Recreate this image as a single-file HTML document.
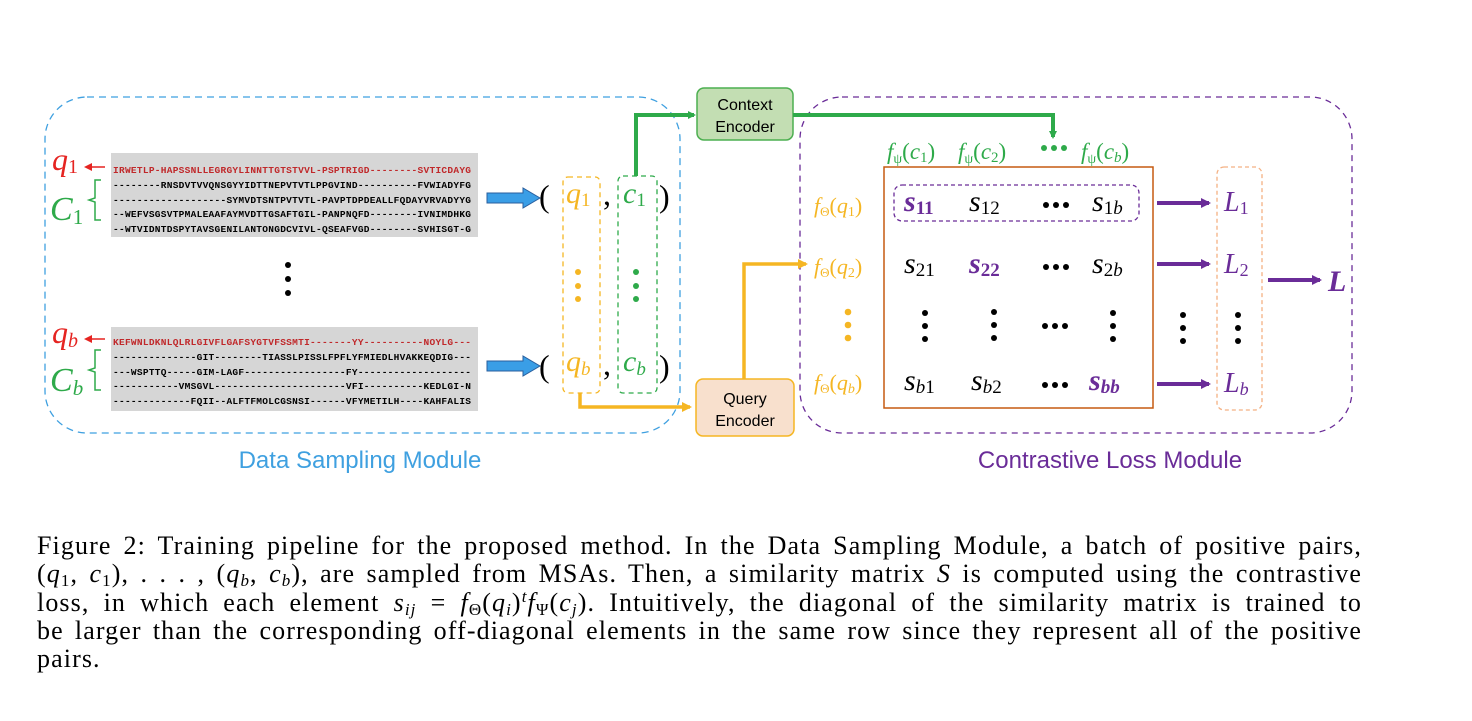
<!DOCTYPE html>
<html><head><meta charset="utf-8"><style>
html,body{margin:0;padding:0;background:#fff;}
body{position:relative;width:1472px;height:721px;overflow:hidden;}
svg{display:block;position:absolute;left:0;top:0;}
.m{font-family:"Liberation Mono",monospace;font-size:9.5px;font-weight:bold;}
.mi{font-family:"Liberation Serif",serif;font-style:italic;}
.s{font-family:"Liberation Sans",sans-serif;}
.cl{position:absolute;left:37px;width:1325px;font-family:"Liberation Serif",serif;font-size:26px;letter-spacing:1.1px;line-height:28px;height:28px;white-space:nowrap;text-align:justify;text-align-last:justify;color:#000;}
.cl i{font-style:italic;}
.cl sub{font-size:17px;vertical-align:-4px;line-height:0;}
.cl sup{font-size:17px;vertical-align:9px;line-height:0;}
</style></head><body>
<svg width="1472" height="721" viewBox="0 0 1472 721" xmlns="http://www.w3.org/2000/svg">
<defs>
<marker id="ag" markerWidth="8" markerHeight="8" refX="6" refY="4" orient="auto" markerUnits="userSpaceOnUse"><path d="M0,0L8,4L0,8z" fill="#2eaa4a"/></marker>
<marker id="ay" markerWidth="10" markerHeight="10" refX="8" refY="5" orient="auto" markerUnits="userSpaceOnUse"><path d="M0,0L10,5L0,10z" fill="#f5b623"/></marker>
<marker id="ap" markerWidth="10" markerHeight="10" refX="8" refY="5" orient="auto" markerUnits="userSpaceOnUse"><path d="M0,0L10,5L0,10z" fill="#6a2c98"/></marker>
<marker id="ar" markerWidth="8" markerHeight="8" refX="6" refY="4" orient="auto" markerUnits="userSpaceOnUse"><path d="M0,0L8,4L0,8z" fill="#e52421"/></marker>
</defs>
<rect x="45" y="97" width="635" height="336" rx="42" fill="none" stroke="#3fa0e0" stroke-width="1.3" stroke-dasharray="7,5"/>
<rect x="800" y="97" width="552" height="336" rx="42" fill="none" stroke="#6a2c98" stroke-width="1.3" stroke-dasharray="6,5"/>
<text x="360" y="468" class="s" font-size="24" fill="#3fa0e0" text-anchor="middle">Data Sampling Module</text>
<text x="1110" y="468" class="s" font-size="24" fill="#6a2c98" text-anchor="middle">Contrastive Loss Module</text>

<rect x="111" y="153" width="367" height="84" fill="#d6d6d6"/>
<g class="m">
<text x="113" y="173" fill="#c0282a" textLength="358">IRWETLP-HAPSSNLLEGRGYLINNTTGTSTVVL-PSPTRIGD--------SVTICDAYG</text>
<text x="113" y="188" textLength="358">--------RNSDVTVVQNSGYYIDTTNEPVTVTLPPGVIND----------FVWIADYFG</text>
<text x="113" y="203" textLength="358">-------------------SYMVDTSNTPVTVTL-PAVPTDPDEALLFQDAYVRVADYYG</text>
<text x="113" y="217" textLength="358">--WEFVSGSVTPMALEAAFAYMVDTTGSAFTGIL-PANPNQFD--------IVNIMDHKG</text>
<text x="113" y="232" textLength="358">--WTVIDNTDSPYTAVSGENILANTONGDCVIVL-QSEAFVGD--------SVHISGT-G</text>
</g>
<text x="52" y="170" class="mi" font-size="32" fill="#e52421">q<tspan font-size="20" dy="3" font-style="normal">1</tspan></text>
<line x1="105" y1="167" x2="86" y2="167" stroke="#e52421" stroke-width="1.5" marker-end="url(#ar)"/>
<text x="50" y="220" class="mi" font-size="34" fill="#2eaa4a">C<tspan font-size="21" dy="4" font-style="normal">1</tspan></text>
<path d="M101,180 h-6 v18 l-6,2 l6,2 v18 h6" fill="none" stroke="#2eaa4a" stroke-width="1.5"/>

<g fill="#000"><circle cx="288" cy="265" r="3"/><circle cx="288" cy="279" r="3"/><circle cx="288" cy="293" r="3"/></g>

<rect x="111" y="327" width="367" height="84" fill="#d6d6d6"/>
<g class="m">
<text x="113" y="345" fill="#c0282a" textLength="358">KEFWNLDKNLQLRLGIVFLGAFSYGTVFSSMTI-------YY----------NOYLG---</text>
<text x="113" y="360" textLength="358">--------------GIT--------TIASSLPISSLFPFLYFMIEDLHVAKKEQDIG---</text>
<text x="113" y="375" textLength="358">---WSPTTQ-----GIM-LAGF-----------------FY-------------------</text>
<text x="113" y="389" textLength="358">-----------VMSGVL----------------------VFI----------KEDLGI-N</text>
<text x="113" y="404" textLength="358">-------------FQII--ALFTFMOLCGSNSI------VFYMETILH----KAHFALIS</text>
</g>
<text x="52" y="343" class="mi" font-size="32" fill="#e52421">q<tspan font-size="20" dy="4">b</tspan></text>
<line x1="105" y1="339" x2="86" y2="339" stroke="#e52421" stroke-width="1.5" marker-end="url(#ar)"/>
<text x="50" y="391" class="mi" font-size="34" fill="#2eaa4a">C<tspan font-size="21" dy="4">b</tspan></text>
<path d="M101,350 h-6 v18 l-6,2 l6,2 v18 h6" fill="none" stroke="#2eaa4a" stroke-width="1.5"/>

<path d="M487,193 h36 v-5 l17,10 l-17,10 v-5 h-36z" fill="#3a9ee6" stroke="#2a5f9e" stroke-width="1"/>
<path d="M487,361 h36 v-5 l17,10 l-17,10 v-5 h-36z" fill="#3a9ee6" stroke="#2a5f9e" stroke-width="1"/>

<rect x="563" y="177" width="37" height="216" rx="5" fill="none" stroke="#f5b623" stroke-width="1.3" stroke-dasharray="5,4"/>
<rect x="618" y="176" width="39" height="217" rx="5" fill="none" stroke="#2eaa4a" stroke-width="1.3" stroke-dasharray="5,4"/>
<g font-family="Liberation Serif,serif" font-size="32">
<text x="539" y="207">(</text><text x="603" y="205">,</text><text x="659" y="207">)</text>
<text x="539" y="377">(</text><text x="603" y="375">,</text><text x="659" y="377">)</text>
</g>
<text x="566" y="203" class="mi" font-size="30" fill="#f5b623">q<tspan font-size="19" dy="3" font-style="normal">1</tspan></text>
<text x="623" y="203" class="mi" font-size="30" fill="#2eaa4a">c<tspan font-size="19" dy="3" font-style="normal">1</tspan></text>
<text x="566" y="371" class="mi" font-size="30" fill="#f5b623">q<tspan font-size="19" dy="4">b</tspan></text>
<text x="623" y="371" class="mi" font-size="30" fill="#2eaa4a">c<tspan font-size="19" dy="4">b</tspan></text>
<g fill="#f5b623"><circle cx="578" cy="272" r="3"/><circle cx="578" cy="286" r="3"/><circle cx="578" cy="299" r="3"/></g>
<g fill="#2eaa4a"><circle cx="636" cy="272" r="3"/><circle cx="636" cy="286" r="3"/><circle cx="636" cy="299" r="3"/></g>

<rect x="697" y="88" width="96" height="52" rx="7" fill="#c3deb3" stroke="#4caf50" stroke-width="1.5"/>
<text x="745" y="110" class="s" font-size="16" text-anchor="middle">Context</text>
<text x="745" y="132" class="s" font-size="16" text-anchor="middle">Encoder</text>
<rect x="696" y="379" width="98" height="57" rx="7" fill="#f8e0cd" stroke="#f5b623" stroke-width="1.5"/>
<text x="745" y="404" class="s" font-size="16" text-anchor="middle">Query</text>
<text x="745" y="426" class="s" font-size="16" text-anchor="middle">Encoder</text>

<path d="M636,176 V115 H694" fill="none" stroke="#2eaa4a" stroke-width="4" marker-end="url(#ag)"/>
<path d="M793,115 H1053 V137" fill="none" stroke="#2eaa4a" stroke-width="4" marker-end="url(#ag)"/>
<path d="M580,393 V407 H690" fill="none" stroke="#f5b623" stroke-width="3.5" marker-end="url(#ay)"/>
<path d="M744,379 V264 H806" fill="none" stroke="#f5b623" stroke-width="3.5" marker-end="url(#ay)"/>

<g font-size="23" fill="#2eaa4a">
<text x="887" y="159" class="mi">f<tspan font-size="14" dy="4" font-style="normal">ψ</tspan><tspan dy="-4" font-style="normal">(</tspan>c<tspan font-size="15" dy="3" font-style="normal">1</tspan><tspan dy="-3" font-style="normal">)</tspan></text>
<text x="958" y="159" class="mi">f<tspan font-size="14" dy="4" font-style="normal">ψ</tspan><tspan dy="-4" font-style="normal">(</tspan>c<tspan font-size="15" dy="3" font-style="normal">2</tspan><tspan dy="-3" font-style="normal">)</tspan></text>
<text x="1081" y="159" class="mi">f<tspan font-size="14" dy="4" font-style="normal">ψ</tspan><tspan dy="-4" font-style="normal">(</tspan>c<tspan font-size="15" dy="3">b</tspan><tspan dy="-3" font-style="normal">)</tspan></text>
</g>
<g fill="#2eaa4a"><circle cx="1044" cy="148" r="3"/><circle cx="1054" cy="148" r="3"/><circle cx="1064" cy="148" r="3"/></g>

<g font-size="22" fill="#f5b623">
<text x="814" y="213" class="mi">f<tspan font-size="13" dy="3" font-style="normal">Θ</tspan><tspan dy="-3" font-style="normal">(</tspan>q<tspan font-size="14" dy="3" font-style="normal">1</tspan><tspan dy="-3" font-style="normal">)</tspan></text>
<text x="814" y="274" class="mi">f<tspan font-size="13" dy="3" font-style="normal">Θ</tspan><tspan dy="-3" font-style="normal">(</tspan>q<tspan font-size="14" dy="3" font-style="normal">2</tspan><tspan dy="-3" font-style="normal">)</tspan></text>
<text x="814" y="390" class="mi">f<tspan font-size="13" dy="3" font-style="normal">Θ</tspan><tspan dy="-3" font-style="normal">(</tspan>q<tspan font-size="14" dy="3">b</tspan><tspan dy="-3" font-style="normal">)</tspan></text>
</g>
<g fill="#f5b623"><circle cx="848" cy="312" r="3.3"/><circle cx="848" cy="325" r="3.3"/><circle cx="848" cy="338" r="3.3"/></g>

<rect x="884" y="167" width="269" height="241" fill="none" stroke="#c55a11" stroke-width="1.5"/>
<rect x="894" y="185" width="245" height="36" rx="8" fill="none" stroke="#6a2c98" stroke-width="1.3" stroke-dasharray="4,3"/>
<g font-size="30" class="mi">
<text x="904" y="211" fill="#6a2c98" font-weight="bold">s<tspan font-size="19" dy="3" font-style="normal">11</tspan></text>
<text x="969" y="211">s<tspan font-size="19" dy="3" font-style="normal">12</tspan></text>
<text x="1092" y="211">s<tspan font-size="19" dy="3" font-style="normal">1</tspan><tspan font-size="19">b</tspan></text>
<text x="904" y="273">s<tspan font-size="19" dy="3" font-style="normal">21</tspan></text>
<text x="969" y="273" fill="#6a2c98" font-weight="bold">s<tspan font-size="19" dy="3" font-style="normal">22</tspan></text>
<text x="1092" y="273">s<tspan font-size="19" dy="3" font-style="normal">2</tspan><tspan font-size="19">b</tspan></text>
<text x="904" y="390">s<tspan font-size="19" dy="3">b</tspan><tspan font-size="19" font-style="normal">1</tspan></text>
<text x="971" y="390">s<tspan font-size="19" dy="3">b</tspan><tspan font-size="19" font-style="normal">2</tspan></text>
<text x="1089" y="390" fill="#6a2c98" font-weight="bold">s<tspan font-size="19" dy="3">bb</tspan></text>
</g>
<g fill="#000">
<circle cx="1046" cy="205" r="3"/><circle cx="1056" cy="205" r="3"/><circle cx="1066" cy="205" r="3"/>
<circle cx="1046" cy="267" r="3"/><circle cx="1056" cy="267" r="3"/><circle cx="1066" cy="267" r="3"/>
<circle cx="1045" cy="326" r="3"/><circle cx="1055" cy="326" r="3"/><circle cx="1065" cy="326" r="3"/>
<circle cx="1045" cy="385" r="3"/><circle cx="1055" cy="385" r="3"/><circle cx="1065" cy="385" r="3"/>
<circle cx="925" cy="313" r="3"/><circle cx="925" cy="326" r="3"/><circle cx="925" cy="339" r="3"/>
<circle cx="994" cy="312" r="3"/><circle cx="994" cy="325" r="3"/><circle cx="994" cy="338" r="3"/>
<circle cx="1113" cy="313" r="3"/><circle cx="1113" cy="326" r="3"/><circle cx="1113" cy="339" r="3"/>
<circle cx="1183" cy="315" r="3"/><circle cx="1183" cy="328" r="3"/><circle cx="1183" cy="341" r="3"/>
<circle cx="1238" cy="315" r="3"/><circle cx="1238" cy="328" r="3"/><circle cx="1238" cy="341" r="3"/>
</g>

<rect x="1217" y="167" width="45" height="243" rx="7" fill="none" stroke="#f4b183" stroke-width="1.3" stroke-dasharray="4,3"/>
<g stroke="#6a2c98" stroke-width="4" fill="none">
<line x1="1157" y1="203" x2="1209" y2="203" marker-end="url(#ap)"/>
<line x1="1157" y1="264" x2="1209" y2="264" marker-end="url(#ap)"/>
<line x1="1157" y1="384" x2="1209" y2="384" marker-end="url(#ap)"/>
<line x1="1268" y1="280" x2="1320" y2="280" marker-end="url(#ap)"/>
</g>
<g font-size="28" fill="#6a2c98" class="mi">
<text x="1224" y="211">L<tspan font-size="18" dy="3" font-style="normal">1</tspan></text>
<text x="1224" y="273">L<tspan font-size="18" dy="3" font-style="normal">2</tspan></text>
<text x="1224" y="392">L<tspan font-size="18" dy="3">b</tspan></text>
<text x="1328" y="291" font-weight="bold" font-size="30">L</text>
</g>
</svg>
<div class="cl" style="top:532px">Figure 2: Training pipeline for the proposed method. In the Data Sampling Module, a batch of positive pairs,</div>
<div class="cl" style="top:560px">(<i>q</i><sub>1</sub>, <i>c</i><sub>1</sub>), . . . , (<i>q<sub>b</sub></i>, <i>c<sub>b</sub></i>), are sampled from MSAs. Then, a similarity matrix <i>S</i> is computed using the contrastive</div>
<div class="cl" style="top:589px">loss, in which each element <i>s<sub>ij</sub></i> = <i>f</i><sub>Θ</sub>(<i>q<sub>i</sub></i>)<sup><i>t</i></sup><i>f</i><sub>Ψ</sub>(<i>c<sub>j</sub></i>). Intuitively, the diagonal of the similarity matrix is trained to</div>
<div class="cl" style="top:617px">be larger than the corresponding off-diagonal elements in the same row since they represent all of the positive</div>
<div class="cl" style="top:645px;text-align-last:left;">pairs.</div>
</body></html>
